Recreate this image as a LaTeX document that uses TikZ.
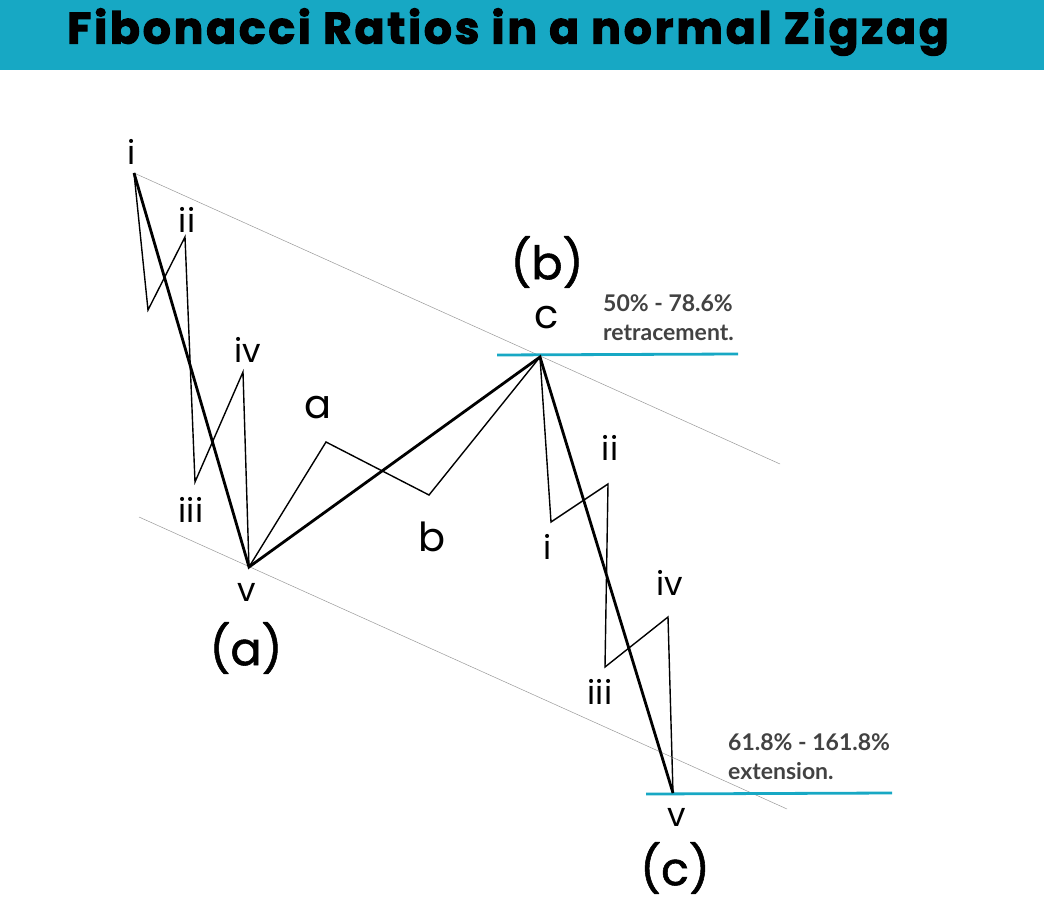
\documentclass[tikz,border=0pt]{standalone}
\usepackage{fontspec}
\setmainfont{Poppins}
\newfontfamily\notefont{Lato}
\newfontfamily\titlefont[LetterSpace=6.5, FakeBold=2.5]{Poppins}
\newfontfamily\bigfont[FakeBold=1.2]{Poppins}
\usetikzlibrary{positioning}
\definecolor{zigteal}{RGB}{23,168,196}
\definecolor{notegray}{RGB}{66,66,66}
\begin{document}
\begin{tikzpicture}[x=1pt, y=-1pt,
    wave/.style={line width=1.4pt, line join=miter},
    trend/.style={line width=2.8pt, line join=miter},
    channel/.style={color=gray!80, line width=0.5pt},
    level/.style={color=zigteal, line width=2.8pt},
    sub/.style={font=\fontsize{33}{33}\selectfont, inner sep=0pt},
    minor/.style={font=\fontsize{40}{40}\selectfont, inner sep=0pt},
    major/.style={font=\bigfont\fontsize{46}{46}\selectfont, inner sep=0pt},
    note/.style={font=\notefont\bfseries\fontsize{23}{29}\selectfont, color=notegray,
      align=left, anchor=west, inner sep=0pt}]
  % Bildbereich
  \useasboundingbox (0,0) rectangle (1044,917);
  % Kopfzeile
  \fill[zigteal] (0,0) rectangle (1044,70);
  \node[font=\titlefont\bfseries\fontsize{44}{44}\selectfont, inner sep=0pt] (title) at (508,32)
    {Fibonacci Ratios in a normal Zigzag};
  % Wellenpunkte
  \coordinate (w1) at (134,173);
  \coordinate (w1d) at (148,310);
  \coordinate (w2) at (185,237);
  \coordinate (w3) at (195,482);
  \coordinate (w4) at (243,372);
  \coordinate (wa) at (249,567);
  \coordinate (xa) at (326,442);
  \coordinate (xb) at (429,495);
  \coordinate (wb) at (540,357);
  \coordinate (v1) at (551,522);
  \coordinate (v2) at (608,484);
  \coordinate (v3) at (605,667);
  \coordinate (v4) at (668,617);
  \coordinate (wc) at (673,793);
  % Trendkanal
  \coordinate (up1) at (134,173);
  \coordinate (up2) at (780,464);
  \coordinate (lo1) at (139,517);
  \coordinate (lo2) at (787,809);
  \draw[channel] (up1) -- (up2);
  \draw[channel] (lo1) -- (lo2);
  % Fibonacci-Niveaus
  \coordinate (r1) at (497,355);
  \coordinate (r2) at (738,354);
  \coordinate (e1) at (646,794);
  \coordinate (e2) at (892,793);
  \draw[level] (r1) -- (r2);
  \draw[level] (e1) -- (e2);
  % Wellen zeichnen
  \draw[wave] (w1) -- (w1d) -- (w2) -- (w3) -- (w4) -- (wa) -- (xa) -- (xb) -- (wb)
    -- (v1) -- (v2) -- (v3) -- (v4) -- (wc);
  \draw[trend] (w1) -- (wa) -- (wb) -- (wc);
  % Beschriftung
  \node[sub] (l1) at (132,152) {i};
  \node[sub] (l2) at (187,220) {ii};
  \node[sub] (l3) at (191,510) {iii};
  \node[sub] (l4) at (248,350) {iv};
  \node[sub] (l5) at (247,592) {v};
  \node[major] (la) at (246,648) {(a)};
  \node[minor] (lxa) at (318,408) {a};
  \node[minor] (lxb) at (432,537) {b};
  \node[major] (lb) at (547,262) {(b)};
  \node[minor] (lxc) at (547,318) {c};
  \node[sub] (m1) at (548,547) {i};
  \node[sub] (m2) at (610,448) {ii};
  \node[sub] (m3) at (600,692) {iii};
  \node[sub] (m4) at (670,583) {iv};
  \node[sub] (m5) at (677,817) {v};
  \node[major] (lc) at (675,868) {(c)};
  % Hinweise
  \node[note] (ret) at (603,318) {50\% - 78.6\%\\retracement.};
  \node[note] (ext) at (728,757) {61.8\% - 161.8\%\\extension.};
\end{tikzpicture}
\end{document}
